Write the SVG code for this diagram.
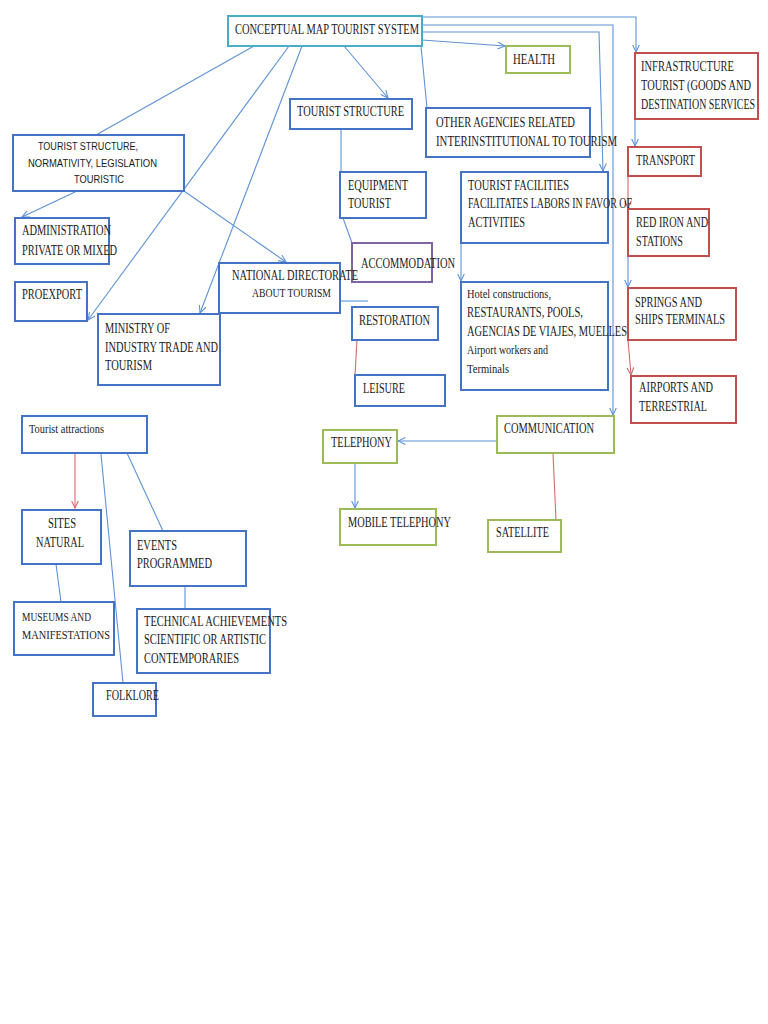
<svg xmlns="http://www.w3.org/2000/svg" width="768" height="1024" viewBox="0 0 768 1024">
<style>
.bx{fill:#fff;stroke-width:2}
.b{stroke:#4472c4}
.r{stroke:#c0504d}
.g{stroke:#9bbb59}
.p{stroke:#8064a2}
.c{stroke:#4bacc6}
.t{font-family:"Liberation Serif","Times New Roman",serif;font-size:14px;fill:#1a1a1a}
.sm{font-size:11.5px}
.s{font-family:"Liberation Sans",Arial,sans-serif;font-size:10.5px;fill:#1a1a1a}
.ln{fill:none;stroke:#5f92d6;stroke-width:1.1}
.lr{fill:none;stroke:#d9686a;stroke-width:1.1}
.ab{marker-end:url(#ab)}
.ar{marker-end:url(#ar)}
</style>
<defs>
<marker id="ab" viewBox="0 0 8 8" refX="7.5" refY="4" markerWidth="8" markerHeight="8" markerUnits="userSpaceOnUse" orient="auto">
<path d="M0,0.5 L7.5,4 L0,7.5" fill="none" stroke="#5f92d6" stroke-width="1.1"/>
</marker>
<marker id="ar" viewBox="0 0 8 8" refX="7.5" refY="4" markerWidth="8" markerHeight="8" markerUnits="userSpaceOnUse" orient="auto">
<path d="M0,0.5 L7.5,4 L0,7.5" fill="none" stroke="#d9686a" stroke-width="1.1"/>
</marker>
</defs>
<rect width="768" height="1024" fill="#fff"/>
<g id="connectors">
<line class="ln" x1="254" y1="46" x2="96" y2="135"/>
<line class="ln ab" x1="289" y1="46" x2="88" y2="320"/>
<line class="ln ab" x1="302" y1="46" x2="200" y2="313"/>
<line class="ln ab" x1="344" y1="46" x2="388" y2="98"/>
<line class="ln ab" x1="422" y1="40" x2="505" y2="46"/>
<polyline class="ln ab" points="422,17 636,17 636,52"/>
<polyline class="ln ab" points="422,25 613,25 613,415"/>
<polyline class="ln ab" points="422,32 599,32 603,171"/>
<line class="ln" x1="421" y1="46" x2="427" y2="108"/>
<line class="ln ab" x1="75" y1="192" x2="22" y2="217"/>
<line class="ln ab" x1="184" y1="191" x2="286" y2="262"/>
<line class="ln" x1="341" y1="129" x2="341" y2="172"/>
<line class="ln" x1="343" y1="218" x2="352" y2="243"/>
<line class="ln" x1="337" y1="301" x2="368" y2="301"/>
<line class="lr" x1="357" y1="340" x2="355" y2="375"/>
<line class="ln ab" x1="461" y1="243" x2="461" y2="281"/>
<line class="ln ab" x1="635" y1="119" x2="635" y2="146"/>
<line class="lr ar" x1="628" y1="176" x2="628" y2="208"/>
<line class="ln ab" x1="628" y1="256" x2="628" y2="287"/>
<line class="lr ar" x1="628" y1="340" x2="631" y2="375"/>
<line class="ln ab" x1="500" y1="441" x2="398" y2="441"/>
<line class="ln ab" x1="355" y1="463" x2="355" y2="508"/>
<line class="lr" x1="553" y1="453" x2="556" y2="520"/>
<line class="lr ar" x1="75" y1="453" x2="75" y2="508"/>
<line class="ln" x1="101" y1="454" x2="123" y2="683"/>
<line class="ln" x1="127" y1="453" x2="163" y2="531"/>
<line class="ln" x1="185" y1="586" x2="185" y2="609"/>
<line class="ln" x1="56" y1="564" x2="61" y2="602"/>
</g>
<g id="title">
<rect class="bx c" x="228" y="16" width="194" height="30"/>
<text class="t" x="235" y="34" textLength="184" lengthAdjust="spacingAndGlyphs">CONCEPTUAL MAP TOURIST SYSTEM</text>
</g>
<g id="health">
<rect class="bx g" x="506" y="46" width="64" height="27"/>
<text class="t" x="513" y="64" textLength="42" lengthAdjust="spacingAndGlyphs">HEALTH</text>
</g>
<g id="infrastructure">
<rect class="bx r" x="635" y="53" width="123" height="66"/>
<text class="t" x="641" y="71" textLength="93" lengthAdjust="spacingAndGlyphs">INFRASTRUCTURE</text>
<text class="t" transform="translate(641,90) scale(0.7,1)" textLength="157" lengthAdjust="spacingAndGlyphs">TOURIST (GOODS AND</text>
<text class="t" transform="translate(641,109) scale(0.7,1)" textLength="163" lengthAdjust="spacingAndGlyphs">DESTINATION SERVICES</text>
</g>
<g id="tourist-structure">
<rect class="bx b" x="290" y="99" width="122" height="30"/>
<text class="t" x="297" y="116" textLength="107" lengthAdjust="spacingAndGlyphs">TOURIST STRUCTURE</text>
</g>
<g id="other-agencies">
<rect class="bx b" x="426" y="108" width="164" height="49"/>
<text class="t" x="436" y="127" textLength="139" lengthAdjust="spacingAndGlyphs">OTHER AGENCIES RELATED</text>
<text class="t" x="436" y="146" textLength="181" lengthAdjust="spacingAndGlyphs">INTERINSTITUTIONAL  TO  TOURISM</text>
</g>
<g id="normativity">
<rect class="bx b" x="13" y="135" width="171" height="56"/>
<text class="s" x="38" y="150" textLength="100" lengthAdjust="spacingAndGlyphs">TOURIST STRUCTURE,</text>
<text class="s" x="28" y="167" textLength="129" lengthAdjust="spacingAndGlyphs">NORMATIVITY, LEGISLATION</text>
<text class="s" x="74" y="183" textLength="50" lengthAdjust="spacingAndGlyphs">TOURISTIC</text>
</g>
<g id="transport">
<rect class="bx r" x="628" y="147" width="73" height="29"/>
<text class="t" x="636" y="165" textLength="59" lengthAdjust="spacingAndGlyphs">TRANSPORT</text>
</g>
<g id="equipment">
<rect class="bx b" x="340" y="172" width="86" height="46"/>
<text class="t" x="348" y="190" textLength="60" lengthAdjust="spacingAndGlyphs">EQUIPMENT</text>
<text class="t" x="348" y="208" textLength="43" lengthAdjust="spacingAndGlyphs">TOURIST</text>
</g>
<g id="tourist-facilities">
<rect class="bx b" x="461" y="172" width="147" height="71"/>
<text class="t" x="468" y="190" textLength="101" lengthAdjust="spacingAndGlyphs">TOURIST FACILITIES</text>
<text class="t" x="468" y="208" textLength="164" lengthAdjust="spacingAndGlyphs">FACILITATES LABORS IN FAVOR OF</text>
<text class="t" x="468" y="227" textLength="57" lengthAdjust="spacingAndGlyphs">ACTIVITIES</text>
</g>
<g id="red-iron">
<rect class="bx r" x="628" y="209" width="81" height="47"/>
<text class="t" x="636" y="227" textLength="72" lengthAdjust="spacingAndGlyphs">RED IRON AND</text>
<text class="t" x="636" y="246" textLength="47" lengthAdjust="spacingAndGlyphs">STATIONS</text>
</g>
<g id="administration">
<rect class="bx b" x="15" y="218" width="94" height="46"/>
<text class="t" x="22" y="235" textLength="89" lengthAdjust="spacingAndGlyphs">ADMINISTRATION</text>
<text class="t" x="22" y="255" textLength="95" lengthAdjust="spacingAndGlyphs">PRIVATE OR MIXED</text>
</g>
<g id="accommodation">
<rect class="bx p" x="352" y="243" width="80" height="39"/>
<text class="t" x="361" y="268" textLength="94" lengthAdjust="spacingAndGlyphs">ACCOMMODATION</text>
</g>
<g id="national-directorate">
<rect class="bx b" x="219" y="263" width="121" height="50"/>
<text class="t" x="232" y="280" textLength="126" lengthAdjust="spacingAndGlyphs">NATIONAL DIRECTORATE</text>
<text class="t sm" x="252" y="297" textLength="79" lengthAdjust="spacingAndGlyphs">ABOUT TOURISM</text>
</g>
<g id="proexport">
<rect class="bx b" x="15" y="282" width="72" height="39"/>
<text class="t" x="22" y="299" textLength="60" lengthAdjust="spacingAndGlyphs">PROEXPORT</text>
</g>
<g id="hotel">
<rect class="bx b" x="461" y="282" width="147" height="108"/>
<text class="t sm" x="467" y="298" textLength="84" lengthAdjust="spacingAndGlyphs">Hotel constructions,</text>
<text class="t" x="467" y="317" textLength="116" lengthAdjust="spacingAndGlyphs">RESTAURANTS, POOLS,</text>
<text class="t" x="467" y="336" textLength="160" lengthAdjust="spacingAndGlyphs">AGENCIAS DE VIAJES, MUELLES</text>
<text class="t sm" x="467" y="354" textLength="81" lengthAdjust="spacingAndGlyphs">Airport workers and</text>
<text class="t sm" x="467" y="373" textLength="42" lengthAdjust="spacingAndGlyphs">Terminals</text>
</g>
<g id="springs">
<rect class="bx r" x="628" y="288" width="108" height="52"/>
<text class="t" x="635" y="307" textLength="67" lengthAdjust="spacingAndGlyphs">SPRINGS AND</text>
<text class="t" x="635" y="324" textLength="90" lengthAdjust="spacingAndGlyphs">SHIPS TERMINALS</text>
</g>
<g id="restoration">
<rect class="bx b" x="352" y="307" width="86" height="33"/>
<text class="t" x="359" y="325" textLength="71" lengthAdjust="spacingAndGlyphs">RESTORATION</text>
</g>
<g id="ministry">
<rect class="bx b" x="98" y="314" width="122" height="71"/>
<text class="t" x="105" y="333" textLength="65" lengthAdjust="spacingAndGlyphs">MINISTRY OF</text>
<text class="t" x="105" y="352" textLength="113" lengthAdjust="spacingAndGlyphs">INDUSTRY TRADE AND</text>
<text class="t" x="105" y="370" textLength="47" lengthAdjust="spacingAndGlyphs">TOURISM</text>
</g>
<g id="leisure">
<rect class="bx b" x="355" y="375" width="90" height="31"/>
<text class="t" x="363" y="393" textLength="42" lengthAdjust="spacingAndGlyphs">LEISURE</text>
</g>
<g id="airports">
<rect class="bx r" x="631" y="376" width="105" height="47"/>
<text class="t" x="639" y="392" textLength="74" lengthAdjust="spacingAndGlyphs">AIRPORTS AND</text>
<text class="t" x="639" y="411" textLength="68" lengthAdjust="spacingAndGlyphs">TERRESTRIAL</text>
</g>
<g id="tourist-attractions">
<rect class="bx b" x="22" y="416" width="125" height="37"/>
<text class="t sm" x="29" y="433" textLength="75" lengthAdjust="spacingAndGlyphs">Tourist attractions</text>
</g>
<g id="communication">
<rect class="bx g" x="497" y="416" width="117" height="37"/>
<text class="t" x="504" y="433" textLength="90" lengthAdjust="spacingAndGlyphs">COMMUNICATION</text>
</g>
<g id="telephony">
<rect class="bx g" x="323" y="430" width="74" height="33"/>
<text class="t" x="331" y="447" textLength="61" lengthAdjust="spacingAndGlyphs">TELEPHONY</text>
</g>
<g id="mobile-telephony">
<rect class="bx g" x="340" y="509" width="96" height="36"/>
<text class="t" x="348" y="527" textLength="103" lengthAdjust="spacingAndGlyphs">MOBILE TELEPHONY</text>
</g>
<g id="satellite">
<rect class="bx g" x="488" y="520" width="73" height="32"/>
<text class="t" x="496" y="537" textLength="53" lengthAdjust="spacingAndGlyphs">SATELLITE</text>
</g>
<g id="sites-natural">
<rect class="bx b" x="22" y="510" width="79" height="54"/>
<text class="t" x="48" y="528" textLength="28" lengthAdjust="spacingAndGlyphs">SITES</text>
<text class="t" x="36" y="547" textLength="48" lengthAdjust="spacingAndGlyphs">NATURAL</text>
</g>
<g id="events">
<rect class="bx b" x="130" y="531" width="116" height="55"/>
<text class="t" x="137" y="550" textLength="40" lengthAdjust="spacingAndGlyphs">EVENTS</text>
<text class="t" x="137" y="568" textLength="75" lengthAdjust="spacingAndGlyphs">PROGRAMMED</text>
</g>
<g id="museums">
<rect class="bx b" x="14" y="602" width="100" height="53"/>
<text class="t sm" x="22" y="621" textLength="69" lengthAdjust="spacingAndGlyphs">MUSEUMS AND</text>
<text class="t sm" x="22" y="639" textLength="88" lengthAdjust="spacingAndGlyphs">MANIFESTATIONS</text>
</g>
<g id="technical">
<rect class="bx b" x="137" y="609" width="133" height="64"/>
<text class="t" x="144" y="626" textLength="143" lengthAdjust="spacingAndGlyphs">TECHNICAL ACHIEVEMENTS</text>
<text class="t" x="144" y="644" textLength="122" lengthAdjust="spacingAndGlyphs">SCIENTIFIC OR ARTISTIC</text>
<text class="t" x="144" y="663" textLength="95" lengthAdjust="spacingAndGlyphs">CONTEMPORARIES</text>
</g>
<g id="folklore">
<rect class="bx b" x="93" y="683" width="63" height="33"/>
<text class="t" x="106" y="700" textLength="53" lengthAdjust="spacingAndGlyphs">FOLKLORE</text>
</g>
</svg>
